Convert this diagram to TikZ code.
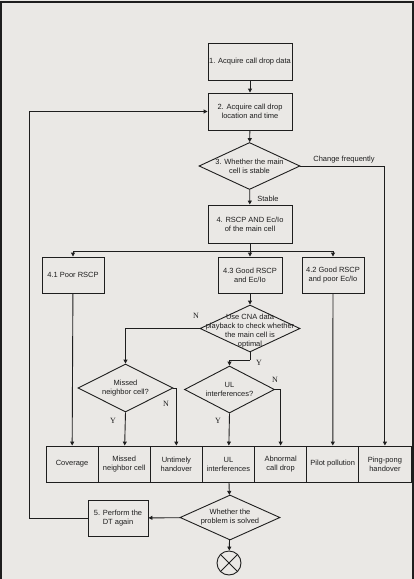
\documentclass[tikz,border=0pt]{standalone}
\usepackage{fontspec}
\setmainfont{Liberation Sans}
\newfontfamily\ynfont{Liberation Serif}
\usetikzlibrary{shapes.geometric,arrows.meta}
\definecolor{bgc}{RGB}{234,232,229}
\definecolor{linec}{RGB}{30,30,30}
\begin{document}
\begin{tikzpicture}[x=1pt,y=-1pt,
  font=\fontsize{7.5}{9}\selectfont,
  box/.style={draw=linec, line width=0.9pt, inner sep=1pt, align=center, text=linec},
  dia/.style={draw=linec, shape=diamond, inner sep=0pt, line width=0.9pt},
  txt/.style={align=center, inner sep=0pt, text=linec},
  yn/.style={font=\ynfont\fontsize{8}{9}\selectfont, text=linec, inner sep=0pt},
  arr/.style={draw=linec, line width=0.9pt, -{Triangle[length=4pt,width=4pt]}},
  ln/.style={draw=linec, line width=0.9pt}]
% background and frame
\fill[bgc] (0,0) rectangle (414,579);
\useasboundingbox (0,0) rectangle (414,579);
\draw[linec, line width=2pt] (1,580) -- (1,1.5) -- (412.5,1.5) -- (412.5,580);
% top part
\node[box, minimum width=84, minimum height=37] (b1) at (250,61.5) {1. Acquire call drop data};
\node[box, minimum width=84, minimum height=37] (b2) at (250,111.5) {2. Acquire call drop\\location and time};
\node[dia, minimum width=101, minimum height=47] (d3) at (249.5,166) {};
\node[txt] (t3) at (d3.center) {3. Whether the main\\cell is stable};
\node[box, minimum width=84, minimum height=38] (b4) at (250,224) {4. RSCP AND Ec/Io\\of the main cell};
\node[box, minimum width=62, minimum height=36] (b41) at (73,275) {4.1 Poor RSCP};
\node[box, minimum width=64, minimum height=36] (b43) at (250,275) {4.3 Good RSCP\\and Ec/Io};
\node[box, minimum width=62, minimum height=36] (b42) at (333,275) {4.2 Good RSCP\\and poor Ec/Io};
\node[dia, minimum width=100, minimum height=47] (dc) at (250,328.5) {};
\node[txt] (tc) at (250,331) {Use CNA data\\playback to check whether\\the main cell is\\optimal};
\node[dia, minimum width=95, minimum height=48] (dm) at (125.5,388) {};
\node[txt] (tm) at (dm.center) {Missed\\neighbor cell?};
\node[dia, minimum width=90, minimum height=47] (du) at (229.5,389.5) {};
\node[txt] (tu) at (du.center) {UL\\interferences?};
% bottom row
\foreach \i/\n/\t in {0/cov/Coverage, 1/mis/Missed\\neighbor cell, 2/unt/Untimely\\handover, 3/ulb/UL\\interferences, 4/abn/Abnormal\\call drop, 5/pil/Pilot pollution, 6/png/Ping-pong\\handover}
  \node[box, minimum width=52.14, minimum height=36, inner sep=0pt] (\n) at ({72.07+\i*52.14},464) {\t};
\node[dia, minimum width=100, minimum height=45] (df) at (230,517.5) {};
\node[txt] (tf) at (df.center) {Whether the\\problem is solved};
\node[box, minimum width=60, minimum height=36] (b5) at (118,518) {5. Perform the\\DT again};
\node[draw=linec, line width=0.9pt, circle, minimum size=24, inner sep=0pt] (endc) at (229,563) {};
\draw[ln] (endc.north west) -- (endc.south east) (endc.north east) -- (endc.south west);
% connectors
\draw[arr] (b1) -- (b2);
\draw[arr] (b2) -- (d3);
\draw[arr] (d3.east) -| (png.north);
\node[txt] (lcf) at (344,160) {Change frequently};
\draw[arr] (d3) -- (b4);
\node[txt] (lst) at (268,199) {Stable};
\coordinate (split) at (250,251);
\draw[ln] (b4.south) -- (split);
\draw[arr] (split) -| (b41.north);
\draw[arr] (split) -| (b42.north);
\draw[arr] (split) -- (b43.north);
\draw[arr] (b41) -- (cov);
\draw[arr] (b42) -- (pil);
\draw[arr] (b43) -- (dc);
\draw[arr] (dc.west) -| (dm.north);
\node[yn] (n1) at (196,316) {N};
\coordinate (dcb) at (250,360);
\draw[ln] (dc.south) -- (dcb);
\draw[arr] (dcb) -| (du.north);
\node[yn] (y1) at (259,363) {Y};
\draw[arr] (dm.south) -- (mis);
\node[yn] (y2) at (113,421) {Y};
\draw[arr] (dm.east) -| (unt.north);
\node[yn] (n2) at (166,404) {N};
\draw[arr] (du.south) -- (ulb);
\node[yn] (y3) at (218,421) {Y};
\draw[arr] (du.east) -| (abn.north);
\node[yn] (n3) at (275,380) {N};
\draw[arr] (ulb) -- (df);
\draw[arr] (df) -- (b5);
\draw[arr] (b5.west) -- ++(-58,0) |- (b2.west);
\draw[arr] (df) -- (endc);
\end{tikzpicture}
\end{document}
